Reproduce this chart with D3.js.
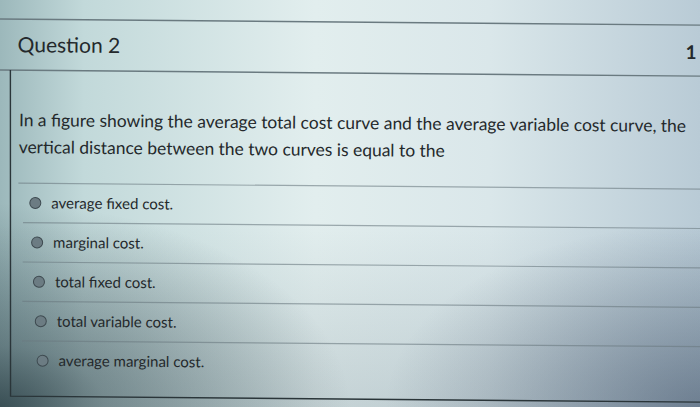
<!DOCTYPE html>
<html>
<head>
<meta charset="utf-8">
<script src="https://cdn.jsdelivr.net/npm/d3@7"></script>
<style>
  body { margin: 0; background: #b9cacf; overflow: hidden; }
  text { font-family: Lato, "Open Sans", sans-serif; }
</style>
</head>
<body>
<div id="quiz"></div>
<script>
// Quiz content
var questionTitle = "Question 2";
var questionPoints = "1";
var questionLines = [
    "In a figure showing the average total cost curve and the average variable cost curve, the",
    "vertical distance between the two curves is equal to the"
];
var answerOptions = [
    "average fixed cost.",
    "marginal cost.",
    "total fixed cost.",
    "total variable cost.",
    "average marginal cost."
];

var svgWidth = 700;
var svgHeight = 407;

var svg = d3.select("#quiz").append("svg")
    .attr("width", svgWidth)
    .attr("height", svgHeight);

// Photo-ish background lighting
var defs = svg.append("defs");

var baseGrad = defs.append("linearGradient")
    .attr("id", "base")
    .attr("x1", "0").attr("y1", "0").attr("x2", "1").attr("y2", "0");
[["0%", "#9cb8bb"], ["12%", "#c2d9da"], ["45%", "#e2eeee"], ["70%", "#dae7ea"], ["100%", "#b9cbd6"]]
    .forEach(s => baseGrad.append("stop").attr("offset", s[0]).attr("stop-color", s[1]));

var shadeGrad = defs.append("linearGradient")
    .attr("id", "shade")
    .attr("x1", "0").attr("y1", "0").attr("x2", "0").attr("y2", "1");
[["0%", 0], ["55%", 0.0], ["100%", 0.16]]
    .forEach(s => shadeGrad.append("stop").attr("offset", s[0])
        .attr("stop-color", "#2f4656").attr("stop-opacity", s[1]));

var cornerGrad = defs.append("radialGradient")
    .attr("id", "corner")
    .attr("cx", "0").attr("cy", "1").attr("r", "0.5");
[["0%", 0.75], ["30%", 0.4], ["100%", 0]]
    .forEach(s => cornerGrad.append("stop").attr("offset", s[0])
        .attr("stop-color", "#1f3238").attr("stop-opacity", s[1]));

var cornerGrad2 = defs.append("radialGradient")
    .attr("id", "corner2")
    .attr("cx", "1").attr("cy", "1").attr("r", "0.45");
[["0%", 0.45], ["100%", 0]]
    .forEach(s => cornerGrad2.append("stop").attr("offset", s[0])
        .attr("stop-color", "#2c3b55").attr("stop-opacity", s[1]));

svg.append("rect").attr("width", svgWidth).attr("height", svgHeight).attr("fill", "url(#base)");
svg.append("rect").attr("width", svgWidth).attr("height", svgHeight).attr("fill", "url(#shade)");
svg.append("rect").attr("width", svgWidth).attr("height", svgHeight).attr("fill", "url(#corner)");
svg.append("rect").attr("width", svgWidth).attr("height", svgHeight).attr("fill", "url(#corner2)");

// The page is photographed a little tilted
var page = svg.append("g")
    .attr("transform", "rotate(0.5)");

var lineColor = "#6a7a80";
var textColor = "#24292c";

// Header band
page.append("line")
    .attr("x1", 0).attr("x2", svgWidth + 10)
    .attr("y1", 19).attr("y2", 19)
    .attr("stroke", lineColor).attr("stroke-width", 1.4);

page.append("line")
    .attr("x1", 0).attr("x2", svgWidth + 10)
    .attr("y1", 70).attr("y2", 70)
    .attr("stroke", lineColor).attr("stroke-width", 1.4);

page.append("text")
    .attr("x", 18).attr("y", 52)
    .attr("fill", textColor)
    .style("font-size", "21px")
    .text(questionTitle);

page.append("text")
    .attr("x", 697).attr("y", 53)
    .attr("text-anchor", "end")
    .attr("fill", textColor)
    .style("font-size", "19px")
    .style("font-weight", "bold")
    .text(questionPoints);

// Question text
var qLine = d3.scalePoint()
    .domain(d3.range(questionLines.length))
    .range([126, 153]);

page.selectAll(".qtext")
    .data(questionLines)
    .enter()
    .append("text")
    .classed("qtext", true)
    .attr("x", 20)
    .attr("y", (d, i) => qLine(i))
    .attr("fill", textColor)
    .style("font-size", "17.45px")
    .text(d => d);

// Answer rows
var rowScale = d3.scaleBand()
    .domain(d3.range(answerOptions.length))
    .range([183, 380]);

// small left lean from the camera angle
var lean = 0.055;
var rowX = y => (y - 183) * lean;

page.selectAll(".sep")
    .data(d3.range(answerOptions.length))
    .enter()
    .append("line")
    .classed("sep", true)
    .attr("x1", d => (d === 0 ? 20 : 25))
    .attr("x2", svgWidth + 10)
    .attr("y1", d => rowScale(d))
    .attr("y2", d => rowScale(d))
    .attr("stroke", lineColor)
    .attr("stroke-opacity", 0.6)
    .attr("stroke-width", 1.2);

var rows = page.selectAll(".row")
    .data(answerOptions)
    .enter()
    .append("g")
    .classed("row", true)
    .attr("transform", (d, i) => {
        var cy = rowScale(i) + rowScale.bandwidth() / 2;
        return `translate(${rowX(cy)}, ${cy})`;
    });

rows.append("circle")
    .attr("cx", 36)
    .attr("cy", 0)
    .attr("r", 5.5)
    .style("fill", "#6c7c83")
    .style("stroke", "#3e4a50")
    .style("stroke-width", 1);

rows.append("text")
    .attr("x", 52)
    .attr("y", 0)
    .attr("dy", "0.35em")
    .attr("fill", textColor)
    .style("font-size", "15px")
    .text(d => d);

// Outer card border (left and bottom)
page.append("path")
    .attr("d", `M11,70 L14,396 L${svgWidth + 10},396`)
    .attr("fill", "none")
    .attr("stroke", "#2a3539")
    .attr("stroke-width", 1.4);
</script>
</body>
</html>
